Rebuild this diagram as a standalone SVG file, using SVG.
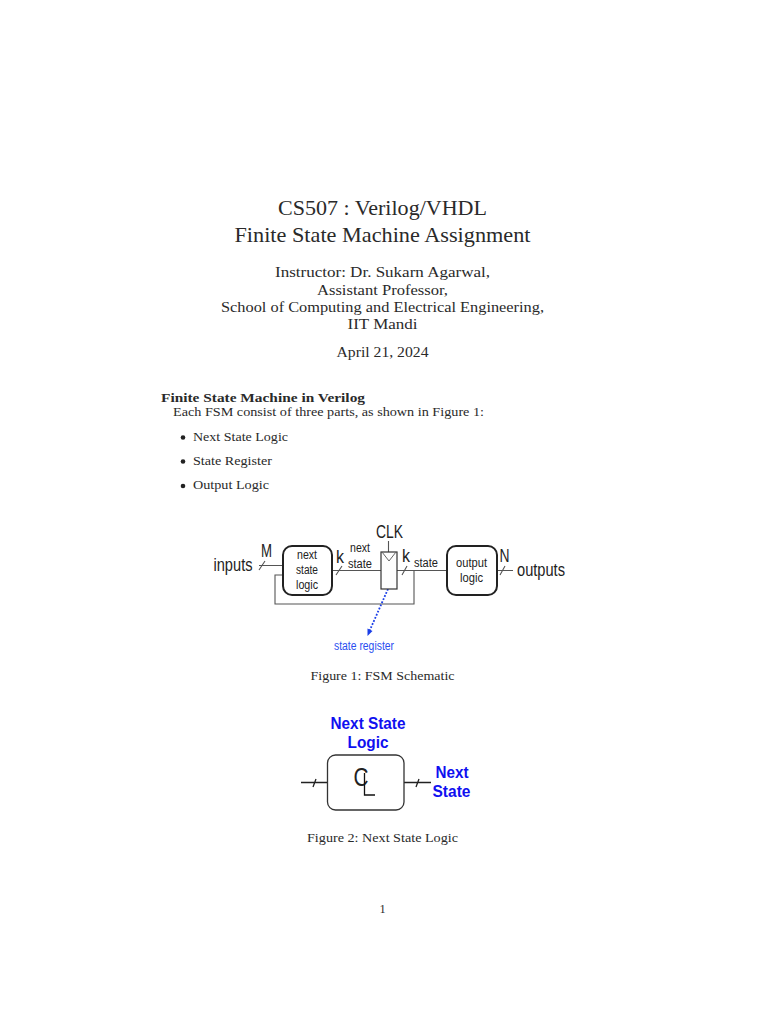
<svg xmlns="http://www.w3.org/2000/svg" width="768" height="1024" viewBox="0 0 768 1024">
<style>
text{font-family:"Liberation Serif","Times New Roman",serif;fill:#2a2a2a}
.t{font-size:21px;text-anchor:middle}
.a{font-size:15.5px;text-anchor:middle}
.b{font-size:12.3px}
.s{font-family:"Liberation Sans",Arial,sans-serif;fill:#222}
.n{font-size:12.5px;text-anchor:middle}
.m{font-size:18px}
.bl{font-family:"Liberation Sans",Arial,sans-serif;font-weight:bold;font-size:16.5px;fill:#1010f0;text-anchor:middle}
.l{fill:none;stroke:#555;stroke-width:1.100}
.k{fill:none;stroke:#222;stroke-width:1.300}
.box{fill:#fff;stroke:#222;stroke-width:2}
</style>
<rect width="768" height="1024" fill="#fff"/>
<g id="title">
<text class="t" x="382.500" y="215" textLength="209" lengthAdjust="spacingAndGlyphs">CS507 : Verilog/VHDL</text>
<text class="t" x="382.500" y="242" textLength="296" lengthAdjust="spacingAndGlyphs">Finite State Machine Assignment</text>
<text class="a" x="382.500" y="277" textLength="215" lengthAdjust="spacingAndGlyphs">Instructor: Dr. Sukarn Agarwal,</text>
<text class="a" x="382.500" y="295" textLength="131" lengthAdjust="spacingAndGlyphs">Assistant Professor,</text>
<text class="a" x="382.500" y="312" textLength="323" lengthAdjust="spacingAndGlyphs">School of Computing and Electrical Engineering,</text>
<text class="a" x="382.500" y="329" textLength="70" lengthAdjust="spacingAndGlyphs">IIT Mandi</text>
<text class="a" x="382.500" y="357" textLength="92" lengthAdjust="spacingAndGlyphs">April 21, 2024</text>
</g>
<g id="body">
<text class="b" x="161" y="401.500" font-weight="bold" textLength="204" lengthAdjust="spacingAndGlyphs">Finite State Machine in Verilog</text>
<text class="b" x="173" y="416" textLength="311" lengthAdjust="spacingAndGlyphs">Each FSM consist of three parts, as shown in Figure 1:</text>
<circle cx="183" cy="437.500" r="2.300" fill="#222"/>
<text class="b" x="193" y="441" textLength="95" lengthAdjust="spacingAndGlyphs">Next State Logic</text>
<circle cx="183" cy="461.500" r="2.300" fill="#222"/>
<text class="b" x="193" y="465" textLength="79" lengthAdjust="spacingAndGlyphs">State Register</text>
<circle cx="183" cy="486" r="2.300" fill="#222"/>
<text class="b" x="193" y="489" textLength="76" lengthAdjust="spacingAndGlyphs">Output Logic</text>
</g>
<g id="fig1-connectors">
<path class="l" d="M259 565.500H282M332 570.500H381M397 570.500H447M497 570.500H513M388.500 541V552M414 570.500V604H275V575H282"/>
<path class="l" d="M259 570L265 561M336 575L342 566M402 575L407 566M500 575L505 566"/>
<path d="M388 589L369.500 631" fill="none" stroke="#1a3ee8" stroke-width="1.800" stroke-dasharray="1.800 1.600"/>
<path d="M367.500 636L367.500 628.500L372.500 631Z" fill="#1a3ee8"/>
</g>
<g id="next-state-logic">
<rect class="box" x="283" y="546" width="49" height="49" rx="9"/>
<text class="s n" x="307" y="559" textLength="20" lengthAdjust="spacingAndGlyphs">next</text>
<text class="s n" x="307" y="574" textLength="22" lengthAdjust="spacingAndGlyphs">state</text>
<text class="s n" x="307" y="588.500" textLength="22" lengthAdjust="spacingAndGlyphs">logic</text>
</g>
<g id="state-register">
<rect x="381" y="552" width="16" height="37" fill="#fdfdfd" stroke="#333" stroke-width="1.200"/>
<path d="M382 552L389 561L396 552" fill="none" stroke="#666"/>
</g>
<g id="output-logic">
<rect class="box" x="447" y="546" width="50" height="49" rx="9"/>
<text class="s n" x="471.500" y="567" textLength="31" lengthAdjust="spacingAndGlyphs">output</text>
<text class="s n" x="471.500" y="582" textLength="23" lengthAdjust="spacingAndGlyphs">logic</text>
</g>
<g id="fig1-labels">
<text class="s" x="213.500" y="570.500" font-size="17.500" textLength="39" lengthAdjust="spacingAndGlyphs">inputs</text>
<text class="s m" x="261" y="557" textLength="11" lengthAdjust="spacingAndGlyphs">M</text>
<text class="s m" x="336" y="562.500" textLength="8" lengthAdjust="spacingAndGlyphs">k</text>
<text class="s n" x="360" y="552" textLength="20" lengthAdjust="spacingAndGlyphs">next</text>
<text class="s n" x="360" y="568" textLength="24" lengthAdjust="spacingAndGlyphs">state</text>
<text class="s" x="376" y="538" font-size="18" textLength="27" lengthAdjust="spacingAndGlyphs">CLK</text>
<text class="s m" x="402" y="562" textLength="8" lengthAdjust="spacingAndGlyphs">k</text>
<text class="s n" x="426" y="567" textLength="24" lengthAdjust="spacingAndGlyphs">state</text>
<text class="s m" x="499.500" y="562" textLength="10" lengthAdjust="spacingAndGlyphs">N</text>
<text class="s" x="517" y="575.500" font-size="17.500" textLength="48" lengthAdjust="spacingAndGlyphs">outputs</text>
<text x="364" y="650" font-size="12" text-anchor="middle" style="font-family:'Liberation Sans',Arial,sans-serif;fill:#2a4ff0" textLength="60" lengthAdjust="spacingAndGlyphs">state register</text>
</g>
<text class="b" x="382.500" y="680" text-anchor="middle" textLength="144" lengthAdjust="spacingAndGlyphs">Figure 1: FSM Schematic</text>
<g id="fig2-connectors">
<path class="k" d="M301 782.500H328M404 782.500H431M313 787L316 779M416 787L419 779"/>
</g>
<g id="cl-block">
<rect x="327.500" y="755" width="76.500" height="55" rx="8" fill="#fff" stroke="#333" stroke-width="1.300"/>
<text x="361" y="785.500" font-size="26" text-anchor="middle" class="s" textLength="15" lengthAdjust="spacingAndGlyphs">C</text>
<path d="M364.500 773V795H375" fill="none" stroke="#111" stroke-width="1.300"/>
</g>
<g id="fig2-labels">
<text class="bl" x="368" y="728.500" textLength="75" lengthAdjust="spacingAndGlyphs">Next State</text>
<text class="bl" x="368" y="748" textLength="41" lengthAdjust="spacingAndGlyphs">Logic</text>
<text class="bl" x="452" y="777.500" textLength="33" lengthAdjust="spacingAndGlyphs">Next</text>
<text class="bl" x="451.500" y="797" textLength="38" lengthAdjust="spacingAndGlyphs">State</text>
</g>
<text class="b" x="382.500" y="842" text-anchor="middle" textLength="151" lengthAdjust="spacingAndGlyphs">Figure 2: Next State Logic</text>
<text class="b" x="382.500" y="913" text-anchor="middle">1</text>
</svg>
